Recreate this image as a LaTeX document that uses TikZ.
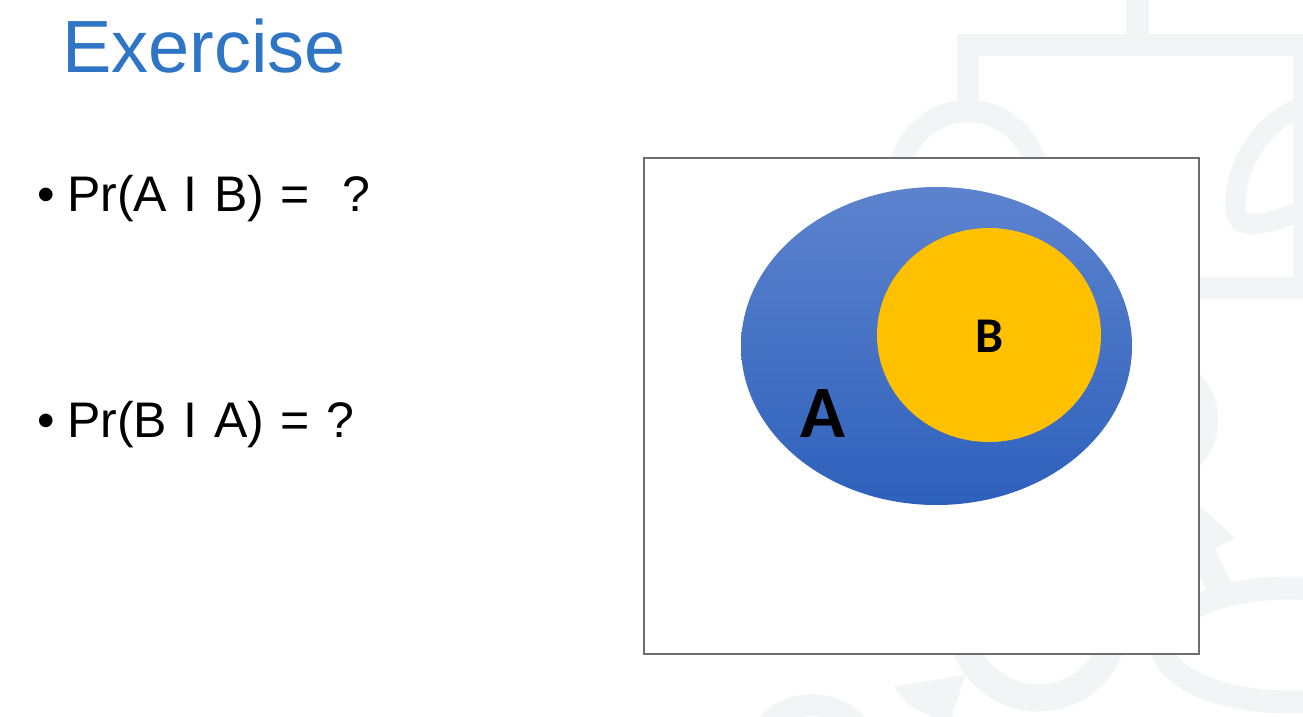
\documentclass[tikz,border=0pt]{standalone}
\usepackage{fontspec}
\setmainfont{Liberation Sans}
\newfontfamily\calibrifont{Carlito}
\usetikzlibrary{shapes.geometric}
\definecolor{titleblue}{RGB}{47,117,198}
\definecolor{setAtop}{RGB}{93,131,206}
\definecolor{setAbot}{RGB}{46,97,188}
\definecolor{setByellow}{RGB}{255,192,0}
\definecolor{wmgray}{RGB}{243,244,245}
\definecolor{framegray}{RGB}{110,110,110}
\begin{document}
\begin{tikzpicture}[x=1pt,y=-1pt,
  wm/.style={draw=wmgray, line width=22pt},
  wmfill/.style={fill=wmgray, draw=none},
  bodytext/.style={anchor=base west, inner sep=0pt, font=\fontsize{50}{55}\selectfont, execute at begin node={\spaceskip=0.33em plus 0.1em\relax}},
  vennlabel/.style={inner sep=0pt, font=\calibrifont\bfseries}]
\fill[white] (0,0) rectangle (1303,717);
\useasboundingbox (0,0) rectangle (1303,717);
\fill[wmfill] (1126,0) rectangle (1149,34);
\draw[wm] (968,100) -- (968,45) -- (1316,45);
\draw[wm] (1304,45) -- (1304,288) -- (1150,288);
\draw[wm] (968,180) circle (69);
\draw[wm, line width=20pt] (1300,108) .. controls (1255,125) and (1232,175) .. (1236,212) .. controls (1240,232) and (1265,224) .. (1300,212);
\fill[wmfill] (1150,420) circle (68);
\fill[wmfill] (1199,505) -- (1235,538) -- (1215,548) -- (1232,585) -- (1210,595) -- (1199,575) -- cycle;
\draw[wm, line width=23pt] (1290,645) ellipse (128 and 57);
\draw[wm, line width=27pt] (1038,621) circle (77);
\draw[wm] (812,765) circle (60);
\fill[wmfill] (894,687) -- (965,675) -- (952,717) -- (932,717) -- (910,706) -- cycle;
\node[bodytext, text=titleblue, font=\fontsize{74}{80}\selectfont] (title) at (62,73) {Exercise};
\node[bodytext] (bulA) at (37,211) {•};
\node[bodytext] (probAB) at (67,211) {Pr(A I B) =\ \ ?};
\node[bodytext] (bulB) at (37,437) {•};
\node[bodytext] (probBA) at (67,437) {Pr(B I A) = ?};
\node[rectangle, draw=framegray, line width=1.3pt, fill=white, minimum width=555pt, minimum height=496pt] (frame) at (921.5,406) {};
\node[ellipse, top color=setAtop, bottom color=setAbot, minimum width=391pt, minimum height=318pt, inner sep=0pt] (setA) at (936.5,346) {};
\node[ellipse, fill=setByellow, minimum width=224pt, minimum height=214pt, inner sep=0pt] (setB) at (989,335) {};
\node[vennlabel, font=\calibrifont\bfseries\fontsize{74}{80}\selectfont] (labA) at (822.5,414) {A};
\node[vennlabel, font=\calibrifont\bfseries\fontsize{50}{55}\selectfont] (labB) at (989.5,336) {B};
\end{tikzpicture}
\end{document}
